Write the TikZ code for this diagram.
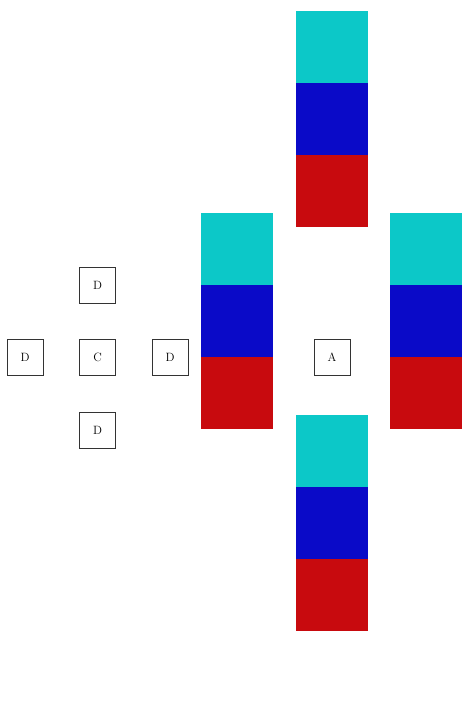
\documentclass[tikz,border=0pt]{standalone}
\usepackage{tikz}
\usetikzlibrary{positioning}
\definecolor{cellcyan}{RGB}{12,200,200}
\definecolor{cellblue}{RGB}{10,10,200}
\definecolor{cellred}{RGB}{200,10,14}
\tikzset{
  piece/.style = {rectangle, draw=black!80, line width=0.8pt, minimum size=36pt,
    inner sep=0pt, font=\large},% small lettered square
  cell/.style = {rectangle, minimum size=72pt, inner sep=0pt, outer sep=0pt},
  cyancell/.style = {cell, fill=cellcyan},
  bluecell/.style = {cell, fill=cellblue},
  redcell/.style = {cell, fill=cellred}
}

\begin{document}
\begin{tikzpicture}[x=1pt,y=-1pt]
\useasboundingbox (0,0) rectangle (474,715);
% lettered squares
\node [piece] (c) at (97.5,357) {C};
\node [piece] (dl) at (25,357) {D};
\node [piece] (dr) at (170,357) {D};
\node [piece] (du) at (97.5,285) {D};
\node [piece] (dd) at (97.5,430) {D};
\node [piece] (a) at (332,357) {A};
% coloured stacks
\foreach \name/\x/\y in {top/332/47, left/237/249, right/426/249, bot/332/451}{
  \node [cyancell] (\name1) at (\x,\y) {};
  \node [bluecell, below=0pt of \name1] (\name2) {};
  \node [redcell, below=0pt of \name2] (\name3) {};
}
\end{tikzpicture}
\end{document}
